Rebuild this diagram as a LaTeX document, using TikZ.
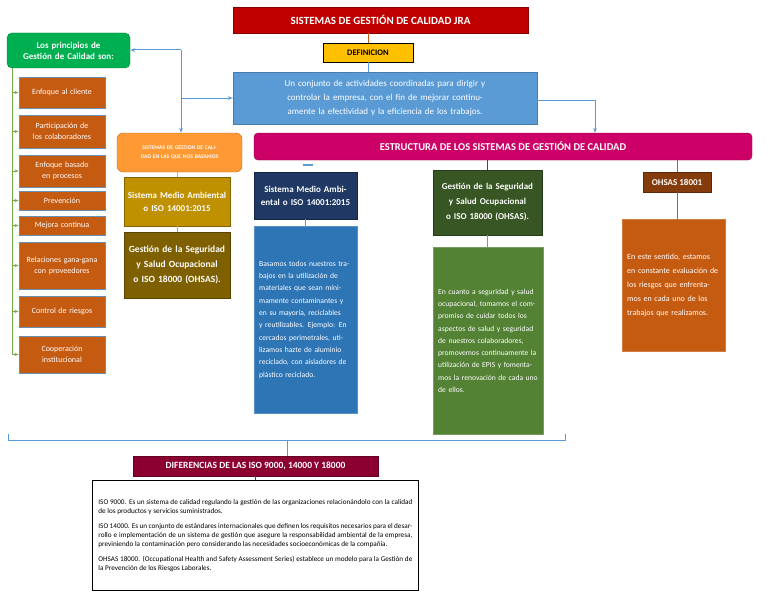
\documentclass[tikz,border=0pt]{standalone}
\usepackage{fontspec}
\setmainfont{Carlito}
\usetikzlibrary{arrows.meta}
\definecolor{ttl}{HTML}{C00000}
\definecolor{yel}{HTML}{FFC000}
\definecolor{lblue}{HTML}{5B9BD5}
\definecolor{grn}{HTML}{00B050}
\definecolor{brn}{HTML}{C55A11}
\definecolor{org}{HTML}{FF9933}
\definecolor{gold}{HTML}{BF9000}
\definecolor{olive}{HTML}{7F6000}
\definecolor{mag}{HTML}{CC0066}
\definecolor{navy}{HTML}{1F3864}
\definecolor{mblue}{HTML}{2E75B6}
\definecolor{dgrn}{HTML}{375623}
\definecolor{mgrn}{HTML}{548235}
\definecolor{dbrn}{HTML}{843C0C}
\definecolor{wine}{HTML}{8B0030}
\definecolor{lgrn}{HTML}{70AD47}
\tikzset{
 bx/.style={draw=#1!70!black,fill=#1,text=white,inner sep=2pt,align=center,font=\bfseries\fontsize{9}{11}\selectfont},
 lst/.style={draw=lblue!60!gray,line width=0.8pt,fill=brn,text=white,align=center,minimum width=86pt,text width=82pt,inner sep=1pt,font=\fontsize{8}{11}\selectfont},
 para/.style={fill=#1,draw=#1!80!white,text=white,align=left,anchor=north west,inner sep=5pt,font=\fontsize{7.6}{12.3}\selectfont},
 bl/.style={draw=lblue,line width=1pt},
 ga/.style={draw=lgrn,line width=1pt,-{Stealth[length=4pt]}},
}
\begin{document}
\begin{tikzpicture}[x=1pt,y=-1pt]
\useasboundingbox[fill=white] (0,0) rectangle (768,594);
% title
\node[bx=ttl,minimum width=295,minimum height=26,font=\bfseries\fontsize{11}{13}\selectfont] (title) at (380.5,20) {SISTEMAS DE GESTIÓN DE CALIDAD JRA};
\node[draw=black,line width=0.8pt,fill=yel,minimum width=90,minimum height=19,font=\bfseries\fontsize{8.5}{10}\selectfont] (def) at (368,52.5) {DEFINICION};
\node[fill=lblue,draw=lblue!80!black,text=white,minimum width=304,minimum height=52,text width=296,align=center,font=\fontsize{9}{14}\selectfont] (defbox) at (385,98) {Un conjunto de actividades coordinadas para dirigir y controlar la empresa, con el fin de mejorar continuamente la efectividad y la eficiencia de los trabajos.};
\draw[brn,line width=1pt] (title.south -| def.north) -- (def.north);
\draw[bl] (def.south) -- (def.south |- defbox.north);
% principles
\node[bx=grn,rounded corners=5pt,minimum width=123,minimum height=35,text width=118] (prin) at (68.5,50.5) {Los principios de Gestión de Calidad son:};
\node[lst,minimum height=31] (l1) at (62,92.5) {Enfoque al cliente};
\node[lst,minimum height=33] (l2) at (62,131.5) {Participación de los colaboradores};
\node[lst,minimum height=32] (l3) at (62,171) {Enfoque basado en procesos};
\node[lst,minimum height=19] (l4) at (62,200.5) {Prevención};
\node[lst,minimum height=19] (l5) at (62,225.5) {Mejora continua};
\node[lst,minimum height=47] (l6) at (62,265.5) {Relaciones gana-gana con proveedores};
\node[lst,minimum height=31] (l7) at (62,311.5) {Control de riesgos};
\node[lst,minimum height=37] (l8) at (62,354.5) {Cooperación institucional};
\coordinate (gtop) at (12,68);
\coordinate (gbot) at (12,355);
\draw[lgrn,line width=1pt] (gtop) -- (gbot);
\foreach \n in {l1,l2,l3,l4,l5,l6,l7,l8}{\draw[ga] (gtop |- \n.west) -- (\n.west);}
% orange & left column
\node[draw=org!70!black,fill=org,rounded corners=6pt,text=white,minimum width=125,minimum height=39,text width=118,align=center,inner sep=1pt,font=\bfseries\fontsize{5.5}{9}\selectfont] (sgc) at (179.5,152.5) {SISTEMAS DE GESTION DE CALIDAD EN LAS QUE NOS BASAMOS};
\node[bx=gold,minimum width=106,minimum height=49,text width=100,font=\bfseries\fontsize{9}{13}\selectfont] (g1) at (177,201.5) {Sistema Medio Ambiental o ISO 14001:2015};
\node[bx=olive,minimum width=106,minimum height=66,text width=100,font=\bfseries\fontsize{9.5}{15}\selectfont] (g2) at (177,265) {Gestión de la Seguridad y Salud Ocupacional o ISO 18000 (OHSAS).};
\draw[org,line width=1pt] (sgc.south -| g1.north) -- (g1.north);
\draw[org,line width=1pt] (g1.south) -- (g2.north);
% blue connectors
\coordinate (vb) at (181,50);
\draw[bl,-{Stealth[length=5pt]}] (vb) -- (prin.east |- vb);
\draw[bl,-{Stealth[length=5pt]}] (vb) -- (vb |- sgc.north);
\draw[bl,-{Stealth[length=5pt]}] (vb |- defbox.west) -- (defbox.west);
% structure
\node[bx=mag,rounded corners=4pt,minimum width=498,minimum height=27,font=\bfseries\fontsize{10.5}{12}\selectfont] (est) at (503,146.5) {ESTRUCTURA DE LOS SISTEMAS DE GESTIÓN DE CALIDAD};
\coordinate (dr) at (595,100);
\draw[bl] (defbox.east |- dr) -- (dr);
\draw[bl,-{Stealth[length=5pt]}] (dr) -- (dr |- est.north);
\node[bx=navy,minimum width=103,minimum height=47,text width=98,font=\bfseries\fontsize{9}{13}\selectfont] (s1) at (305.5,195.5) {Sistema Medio Ambiental o ISO 14001:2015};
\node[para=mblue,minimum width=103,minimum height=187,text width=93] (t1) at (254,226) {Basamos todos nuestros trabajos en la utilización de materiales que sean mínimamente contaminantes y en su mayoría, reciclables y reutilizables. Ejemplo: En cercados perimetrales, utilizamos hazte de aluminio reciclado, con aisladores de plástico reciclado.};
\draw[lblue,line width=1pt] (s1.south) -- (s1.south |- t1.north);
\node[bx=dgrn,minimum width=109,minimum height=65,text width=104,font=\bfseries\fontsize{9}{15}\selectfont] (s2) at (487.5,202.5) {Gestión de la Seguridad y Salud Ocupacional o ISO 18000 (OHSAS).};
\node[para=mgrn,minimum width=110,minimum height=187,text width=100,inner ysep=10pt] (t2) at (433,247) {En cuanto a seguridad y salud ocupacional, tomamos el compromiso de cuidar todos los aspectos de salud y seguridad de nuestros colaboradores, promovemos continuamente la utilización de EPIS y fomentamos la renovación de cada uno de ellos.};
\draw[lgrn,line width=1pt] (s2.south) -- (s2.south |- t2.north);
\node[bx=dbrn,minimum width=68,minimum height=20] (s3) at (677,182) {OHSAS 18001};
\node[para=brn,minimum width=103,minimum height=132,text width=93,inner ysep=12pt,font=\fontsize{8}{14}\selectfont] (t3) at (622,219) {En este sentido, estamos en constante evaluación de los riesgos que enfrentamos en cada uno de los trabajos que realizamos.};
\draw[brn,line width=1pt] (s3.south) -- (s3.south |- t3.north);
\draw[dgrn,line width=0.8pt] (est.south -| s2.north) -- (s2.north);
\draw[brn,line width=0.8pt] (est.south -| s3.north) -- (s3.north);
\coordinate (dash1) at (303,165); \coordinate (dash2) at (313,165);
\draw[lblue,line width=1.2pt] (dash1) -- (dash2);
% brace
\coordinate (br1) at (8,434); \coordinate (br2) at (565,434);
\coordinate (bc) at (287,440);
\draw[lblue,line width=1pt] (br1) -- ++(0,6) -- (br2 |- bc) -- (br2);
\node[bx=wine,minimum width=245,minimum height=20,font=\bfseries\fontsize{9.5}{11}\selectfont] (dif) at (255.5,466) {DIFERENCIAS DE LAS ISO 9000, 14000 Y 18000};
\draw[lblue,line width=1pt] (bc) -- (bc |- dif.north);
\node[draw=black,line width=0.8pt,fill=white,anchor=north west,minimum width=326,minimum height=110,text width=314,inner sep=6pt,align=justify,font=\fontsize{7.2}{9}\selectfont] (txt) at (92,480) {ISO 9000. Es un sistema de calidad regulando la gestión de las organizaciones relacionándolo con la calidad de los productos y servicios suministrados.\par\vspace{6pt}
ISO 14000. Es un conjunto de estándares internacionales que definen los requisitos necesarios para el desarrollo e implementación de un sistema de gestión que asegure la responsabilidad ambiental de la empresa, previniendo la contaminación pero considerando las necesidades socioeconómicas de la compañía.\par\vspace{6pt}
OHSAS 18000. (Occupational Health and Safety Assessment Series) establece un modelo para la Gestión de la Prevención de los Riesgos Laborales.};
\draw[mag,line width=1pt] (dif.south) -- (dif.south |- txt.north);
\end{tikzpicture}
\end{document}
